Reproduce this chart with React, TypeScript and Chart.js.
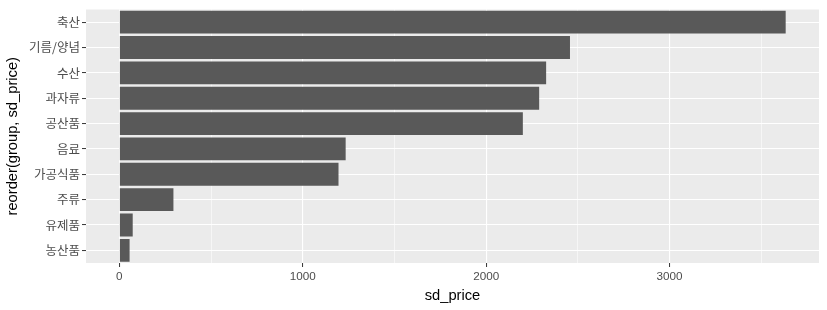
import React, { useEffect, useRef } from 'react';
import { Chart, registerables } from 'chart.js';

Chart.register(...registerables);

const groups = ['축산', '기름/양념', '수산', '과자류', '공산품', '음료', '가공식품', '주류', '유제품', '농산품'];
const sdPrice = [3633, 2457, 2327, 2289, 2200, 1234, 1195, 295, 73, 56];
const xTickValues = [0, 500, 1000, 1500, 2000, 2500, 3000, 3500];
const xMajorStep = 1000;
const xAxisTitle = 'sd_price';
const yAxisTitle = 'reorder(group, sd_price)';

const LATIN = '"Liberation Sans", Arial, sans-serif';
const KOREAN = '"Noto Sans CJK KR", "Noto Sans", sans-serif';

const panelBg = {
  id: 'panelBg',
  beforeDraw(chart: any) {
    const { ctx, chartArea } = chart;
    ctx.save();
    ctx.fillStyle = '#EBEBEB';
    ctx.fillRect(chartArea.left, chartArea.top, chartArea.right - chartArea.left, chartArea.bottom - chartArea.top);
    ctx.restore();
  },
};

export default function App() {
  const ref = useRef<HTMLCanvasElement | null>(null);
  useEffect(() => {
    if (!ref.current) return;
    const maxV = Math.max(...sdPrice);
    const isMajor = (v: number) => v % xMajorStep === 0;
    const chart = new Chart(ref.current, {
      type: 'bar',
      data: {
        labels: groups,
        datasets: [
          {
            data: sdPrice,
            backgroundColor: '#595959',
            borderWidth: 0,
            barPercentage: 0.9,
            categoryPercentage: 1.0,
          },
        ],
      },
      plugins: [panelBg],
      options: {
        indexAxis: 'y',
        animation: false,
        responsive: false,
        maintainAspectRatio: false,
        layout: { padding: { left: 0, top: 7, right: 8, bottom: 0 } },
        plugins: { legend: { display: false }, tooltip: { enabled: false } },
        scales: {
          x: {
            type: 'linear',
            min: -0.05 * maxV,
            max: 1.05 * maxV,
            afterBuildTicks: (axis: any) => {
              axis.ticks = xTickValues.map((v) => ({ value: v }));
            },
            afterFit: (s: any) => {
              s.height = 47;
            },
            border: { display: false },
            grid: {
              color: '#FFFFFF',
              lineWidth: (c: any) => (c.tick && isMajor(c.tick.value) ? 1.1 : 0.55),
              tickColor: (c: any) => (c.tick && isMajor(c.tick.value) ? '#333333' : 'rgba(0,0,0,0)'),
              tickWidth: 1,
              tickLength: 4,
              drawTicks: true,
            },
            ticks: {
              color: '#4D4D4D',
              font: { family: LATIN, size: 11.7 },
              padding: 3,
              maxRotation: 0,
              autoSkip: false,
              callback: (v: any) => (isMajor(Number(v)) ? String(v) : ''),
            },
            title: {
              display: true,
              text: xAxisTitle,
              color: '#000000',
              font: { family: LATIN, size: 14.7 },
              padding: { top: 0, bottom: 5 },
            },
          },
          y: {
            type: 'category',
            offset: true,
            afterFit: (s: any) => {
              s.width = 86;
            },
            border: { display: false },
            grid: {
              offset: false,
              color: '#FFFFFF',
              lineWidth: 1.1,
              tickColor: '#333333',
              tickWidth: 1,
              tickLength: 4,
            },
            ticks: {
              color: '#4D4D4D',
              font: { family: KOREAN, size: 12.5 },
              padding: 2,
              autoSkip: false,
            },
            title: {
              display: true,
              text: yAxisTitle,
              color: '#000000',
              font: { family: LATIN, size: 14.7 },
              padding: { top: 4, bottom: 0 },
            },
          },
        },
      },
    } as any);
    return () => chart.destroy();
  }, []);
  return (
    <div style={{ position: 'fixed', left: 0, top: 0, width: 827, height: 310, background: '#FFFFFF' }}>
      <canvas ref={ref} width={827} height={310} style={{ display: 'block', width: 827, height: 310 }} />
    </div>
  );
}
